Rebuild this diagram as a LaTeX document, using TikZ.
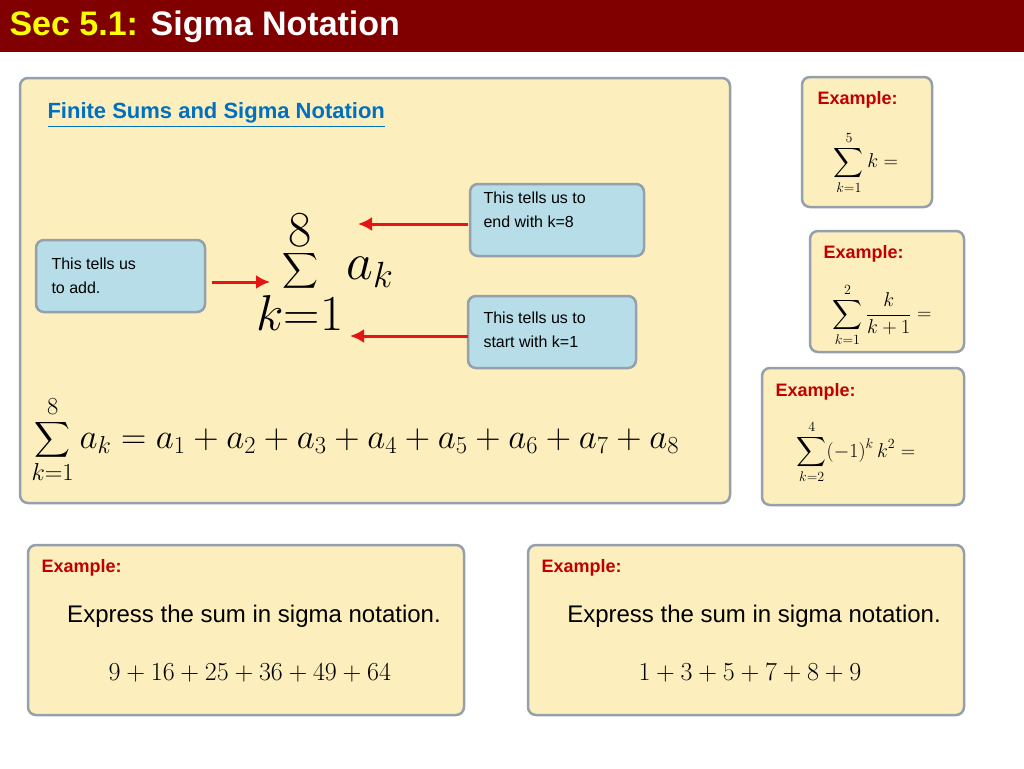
\RequirePackage{fix-cm}
\documentclass[tikz,border=0pt]{standalone}
\usepackage{fontspec}
\setmainfont{Liberation Sans}
\usepackage{amsmath}
\usetikzlibrary{positioning,arrows.meta}
\definecolor{titlered}{RGB}{128,0,0}
\definecolor{titleyel}{RGB}{255,255,0}
\definecolor{paneyel}{RGB}{253,238,189}
\definecolor{paneline}{RGB}{148,160,172}
\definecolor{tipblue}{RGB}{183,222,232}
\definecolor{headblue}{RGB}{0,112,192}
\definecolor{exred}{RGB}{192,0,0}
\definecolor{arrred}{RGB}{230,20,20}
\tikzset{
  pane/.style={draw=paneline, line width=2.5pt, fill=paneyel, rounded corners=8pt},
  tip/.style={draw=paneline, line width=2.5pt, fill=tipblue, rounded corners=8pt},
  tiptext/.style={align=left, font=\fontsize{16}{24}\selectfont, anchor=north west},
  extitle/.style={text=exred, font=\bfseries\fontsize{18}{20}\selectfont, anchor=north west},
  redarrow/.style={draw=arrred, line width=3pt, -{Latex[length=14pt,width=14pt]}}
}
\begin{document}
\begin{tikzpicture}[x=1pt,y=-1pt]
\useasboundingbox (0,0) rectangle (1024,768);
% title bar
\fill[titlered] (0,0) rectangle (1024,52);
\node[anchor=west, font=\bfseries\fontsize{34}{38}\selectfont] (title) at (6,27)
  {\textcolor{titleyel}{Sec 5.1:} \textcolor{white}{Sigma Notation}};
% main pane
\draw[pane] (20,78) rectangle (730,503);
\node[anchor=west, text=headblue, font=\bfseries\fontsize{22}{24}\selectfont] (head) at (44,115)
  {\underline{Finite Sums and Sigma Notation}};
\node (sig) at (300,272) {\fontsize{72}{80}\selectfont $\displaystyle\sum_{\scriptstyle k=1}^{\scriptstyle 8}$};
\node[right=-4pt of sig, font=\fontsize{52}{60}\selectfont] (ak) {$a_k$};
\coordinate (endtip) at (358,224);
\coordinate (starttip) at (350,336);
\coordinate (addtip) at (270,282);
% tip boxes
\draw[tip] (470,184) rectangle (644,256);
\node[tiptext] (endtxt) at (480,188) {This tells us to\\end with k=8};
\draw[tip] (36,240) rectangle (205,312);
\node[tiptext] (addtxt) at (48,254) {This tells us\\to add.};
\draw[tip] (468,296) rectangle (636,368);
\node[tiptext] (starttxt) at (480,308) {This tells us to\\start with k=1};
\coordinate (endsrc) at (468,224);
\coordinate (startsrc) at (468,336);
\coordinate (addsrc) at (212,282);
\draw[redarrow] (endsrc) -- (endtip);
\draw[redarrow] (startsrc) -- (starttip);
\draw[redarrow] (addsrc) -- (addtip);
\node[anchor=west, font=\fontsize{35}{40}\selectfont] (expand) at (28,440)
  {$\displaystyle\sum_{\scriptstyle k=1}^{\scriptstyle 8} a_k = a_1+a_2+a_3+a_4+a_5+a_6+a_7+a_8$};
% right examples
\draw[pane] (802,77) rectangle (932,207);
\node[extitle] (exa) at (814,88) {Example:};
\node[font=\fontsize{20}{24}\selectfont] (suma) at (866,163) {$\displaystyle\sum_{k=1}^{5} k =$};
\draw[pane] (810,231) rectangle (964,352);
\node[extitle] (exb) at (820,242) {Example:};
\node[font=\fontsize{20}{24}\selectfont] (sumb) at (882,315) {$\displaystyle\sum_{k=1}^{2} \frac{k}{k+1} =$};
\draw[pane] (762,368) rectangle (964,505);
\node[extitle] (exc) at (772,380) {Example:};
\node[font=\fontsize{20}{24}\selectfont] (sumc) at (856,452) {$\displaystyle\sum_{k=2}^{4} (-1)^k\,k^2 =$};
% bottom examples
\draw[pane] (28,545) rectangle (464,715);
\node[extitle] (exd) at (38,556) {Example:};
\node[font=\fontsize{24}{28}\selectfont] (askd) at (254,616) {Express the sum in sigma notation.};
\node[font=\fontsize{26}{30}\selectfont] (sumd) at (250,673) {$9+16+25+36+49+64$};
\draw[pane] (528,545) rectangle (964,715);
\node[extitle] (exe) at (538,556) {Example:};
\node[font=\fontsize{24}{28}\selectfont] (aske) at (754,616) {Express the sum in sigma notation.};
\node[font=\fontsize{26}{30}\selectfont] (sume) at (750,673) {$1+3+5+7+8+9$};
\end{tikzpicture}
\end{document}
